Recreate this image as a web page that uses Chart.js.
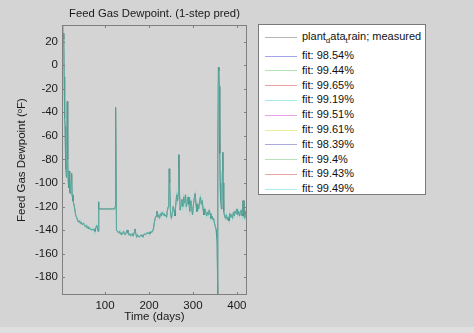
<!DOCTYPE html>
<html lang="en">
<head>
    <meta charset="UTF-8">
    <title>Feed Gas Dewpoint</title>
    <script src="https://cdn.jsdelivr.net/npm/chart.js"></script>
    <style>
        body {
            margin: 0;
            background: #d4d4d4;
            font-family: "Liberation Sans", Arial, sans-serif;
        }
        .wrap {
            position: relative;
            width: 474px;
            height: 333px;
            overflow: hidden;
        }
        .strip {
            position: absolute;
            left: 0;
            bottom: 0;
            width: 474px;
            height: 6px;
            background: #dfdfdf;
        }
        #legend {
            position: absolute;
            left: 258px;
            top: 24px;
            width: 168px;
            height: 171px;
            background: #fff;
            border: 1px solid #7a7a7a;
            box-sizing: border-box;
            font-size: 11px;
            color: #111;
        }
        #legend .row {
            position: absolute;
            left: 6px;
            height: 14px;
            line-height: 14px;
            white-space: nowrap;
        }
        #legend .swatch {
            display: inline-block;
            width: 32px;
            height: 0;
            border-top: 1px solid #aaa;
            vertical-align: middle;
            margin-right: 5px;
        }
        #legend sub {
            font-size: 8px;
            vertical-align: -3px;
            line-height: 0;
        }
    </style>
</head>
<body>
    <div class="wrap">
        <canvas id="dewChart" width="474" height="333"></canvas>
        <div class="strip"></div>
        <div id="legend"></div>
    </div>
    <script>
        // measured feed gas dewpoint, one point per day (roughly)
        var days = [2, 3, 4, 5, 6, 7, 8, 9, 10, 11, 12, 13, 14, 15, 16, 17, 18, 19, 20, 21,
            22, 23, 24, 25, 27, 29, 31, 33, 35, 37, 39, 41, 43, 45, 47, 49, 51, 53, 55, 57,
            59, 61, 63, 65, 67, 69, 71, 73, 75, 77, 79, 81, 83, 84, 85, 86, 100, 110, 122, 123,
            124, 126, 128, 130, 132, 134, 136, 138, 140, 142, 144, 146, 148, 150, 152, 154, 156, 158, 160, 162,
            164, 166, 168, 170, 172, 174, 176, 178, 180, 182, 184, 186, 188, 190, 192, 194, 196, 198, 200, 202,
            204, 206, 208, 210, 212, 214, 216, 218, 220, 222, 224, 226, 228, 230, 232, 234, 236, 238, 240, 242,
            244, 245, 246, 247, 249, 251, 253, 255, 257, 259, 261, 263, 265, 267, 268, 269, 271, 273, 275, 277,
            279, 281, 283, 285, 287, 289, 291, 293, 295, 297, 299, 301, 303, 305, 307, 309, 311, 313, 315, 317,
            319, 321, 323, 325, 327, 329, 331, 333, 335, 337, 339, 341, 343, 345, 347, 349, 351, 353, 354, 355,
            356, 357, 358, 359, 360, 361, 362, 363, 365, 366, 367, 368, 369, 370, 372, 374, 376, 378, 380, 382,
            384, 386, 388, 390, 392, 394, 396, 398, 400, 402, 404, 406, 408, 410, 412, 414, 416, 418, 420, 423];
        var measured = [28, 33, 24, 27, 22, -10, -45, -52, -88, -84, -95, -86, -31, -80, -95, -104, -90, -108, -100, -109,
            -104, -98, -92, -110, -115, -118, -122, -127, -129, -131, -133, -132, -134, -133, -135, -135, -134, -136, -137, -136,
            -138, -137, -139, -138, -139, -140, -139, -140, -139, -141, -138, -136, -139, -141, -116, -122, -122, -122, -122, -120,
            -36, -140, -141, -142, -141, -143, -142, -144, -143, -141, -143, -144, -142, -140, -142, -144, -143, -145, -144, -143,
            -145, -142, -139, -143, -146, -144, -145, -146, -145, -144, -145, -146, -144, -143, -144, -143, -142, -143, -142, -143,
            -141, -142, -141, -139, -134, -130, -128, -124, -129, -127, -130, -126, -128, -125, -127, -126, -128, -127, -129, -123,
            -120, -115, -88, -100, -126, -130, -125, -120, -123, -128, -118, -110, -115, -108, -76, -105, -123, -118, -114, -120,
            -112, -117, -110, -120, -116, -112, -118, -124, -115, -120, -127, -119, -113, -109, -118, -124, -118, -122, -116, -112,
            -118, -115, -122, -127, -122, -124, -128, -125, -127, -123, -126, -130, -128, -131, -130, -134, -137, -140, -146, -150,
            -194, -80, -2, -5, -18, -75, -100, -115, -122, -118, -90, -74, -100, -124, -128, -130, -127, -131, -129, -132,
            -126, -129, -127, -130, -125, -128, -124, -126, -122, -127, -124, -128, -125, -123, -128, -115, -128, -130, -124, -128];

        // one-step-ahead model fits; they sit on top of the measured trace
        var fitLabels = ['fit: 98.54%', 'fit: 99.44%', 'fit: 99.65%', 'fit: 99.19%', 'fit: 99.51%',
            'fit: 99.61%', 'fit: 98.39%', 'fit: 99.4%', 'fit: 99.43%', 'fit: 99.49%'];
        var fitColors = ['#a3a3ec', '#b3e3b3', '#eda3a3', '#a3eded', '#eba3eb',
            '#ecec9e', '#aaaade', '#bbdfbb', '#eba6a6', '#a8ecec'];

        var yTicks = [-180, -160, -140, -120, -100, -80, -60, -40, -20, 0, 20];
        var xTicks = [100, 200, 300, 400];

        var font = '"Liberation Sans", Arial, sans-serif';

        function toPoints(xs, ys) {
            return xs.map(function(x, i) { return {x: x, y: ys[i]}; });
        }

        var datasets = [{
            label: 'plant_data_train; measured',
            data: toPoints(days, measured),
            borderColor: 'rgba(40, 80, 75, 0.85)',
            borderWidth: 1,
            order: 1
        }];
        fitLabels.forEach(function(lbl, i) {
            var last = i === fitLabels.length - 1;
            datasets.push({
                label: lbl,
                data: toPoints(days, measured),
                borderColor: last ? 'rgba(105, 210, 195, 0.6)' : 'rgba(0,0,0,0)',
                borderWidth: 1.2,
                order: last ? 0 : 2
            });
        });

        // box, inward tick marks and title, drawn MATLAB style
        var axesBox = {
            id: 'axesBox',
            afterDraw: function(chart) {
                var ctx = chart.ctx;
                var a = chart.chartArea;
                var xs = chart.scales.x, ys = chart.scales.y;
                ctx.save();
                ctx.strokeStyle = '#808080';
                ctx.lineWidth = 1;
                ctx.beginPath();
                yTicks.forEach(function(v) {
                    var py = Math.round(ys.getPixelForValue(v)) + 0.5;
                    ctx.moveTo(a.left, py); ctx.lineTo(a.left + 3, py);
                    ctx.moveTo(a.right, py); ctx.lineTo(a.right - 3, py);
                });
                xTicks.forEach(function(v) {
                    var px = Math.round(xs.getPixelForValue(v)) + 0.5;
                    ctx.moveTo(px, a.bottom); ctx.lineTo(px, a.bottom - 3);
                    ctx.moveTo(px, a.top); ctx.lineTo(px, a.top + 3);
                });
                ctx.stroke();
                ctx.strokeRect(a.left + 0.5, a.top + 0.5, a.right - a.left - 1, a.bottom - a.top - 1);
                ctx.fillStyle = '#1a1a1a';
                ctx.font = '11.3px ' + font;
                ctx.textAlign = 'center';
                ctx.textBaseline = 'middle';
                ctx.fillText('Feed Gas Dewpoint. (1-step pred)', (a.left + a.right) / 2, 14);
                ctx.restore();
            }
        };

        var ctx = document.getElementById('dewChart').getContext('2d');
        new Chart(ctx, {
            type: 'line',
            data: { datasets: datasets },
            options: {
                responsive: false,
                animation: false,
                events: [],
                layout: { padding: { left: 0, top: 25, right: 227, bottom: 0 } },
                elements: { point: { radius: 0 }, line: { tension: 0 } },
                plugins: {
                    legend: { display: false },
                    tooltip: { enabled: false }
                },
                scales: {
                    x: {
                        type: 'linear',
                        min: 2,
                        max: 423,
                        grid: { display: false, drawTicks: false },
                        border: { display: false },
                        afterBuildTicks: function(scale) {
                            scale.ticks = xTicks.map(function(v) { return {value: v}; });
                        },
                        afterFit: function(scale) { scale.height = 38; },
                        ticks: { color: '#1a1a1a', font: { family: font, size: 11.5 }, padding: 4, maxRotation: 0 },
                        title: {
                            display: true,
                            text: 'Time (days)',
                            color: '#1a1a1a',
                            font: { family: font, size: 11.5 },
                            padding: { top: 0, bottom: 9 }
                        }
                    },
                    y: {
                        min: -195,
                        max: 34,
                        grid: { display: false, drawTicks: false },
                        border: { display: false },
                        afterBuildTicks: function(scale) {
                            scale.ticks = yTicks.map(function(v) { return {value: v}; });
                        },
                        afterFit: function(scale) { scale.width = 62; },
                        ticks: { color: '#1a1a1a', font: { family: font, size: 11.5 }, padding: 4 },
                        title: {
                            display: true,
                            text: 'Feed Gas Dewpoint (\u1D52F)',
                            color: '#1a1a1a',
                            font: { family: font, size: 11.5 },
                            padding: { top: 15, bottom: 0 }
                        }
                    }
                }
            },
            plugins: [axesBox]
        });

        // legend box on the right
        var legend = document.getElementById('legend');
        var rows = [{html: 'plant<sub>d</sub>ata<sub>t</sub>rain; measured', color: '#b4b4b4', y: 4}];
        fitLabels.forEach(function(lbl, i) {
            rows.push({html: lbl, color: fitColors[i], y: 23 + i * 14.8});
        });
        rows.forEach(function(r) {
            var div = document.createElement('div');
            div.className = 'row';
            div.style.top = r.y + 'px';
            div.innerHTML = '<span class="swatch" style="border-top-color:' + r.color + '"></span>' + r.html;
            legend.appendChild(div);
        });
    </script>
</body>
</html>
